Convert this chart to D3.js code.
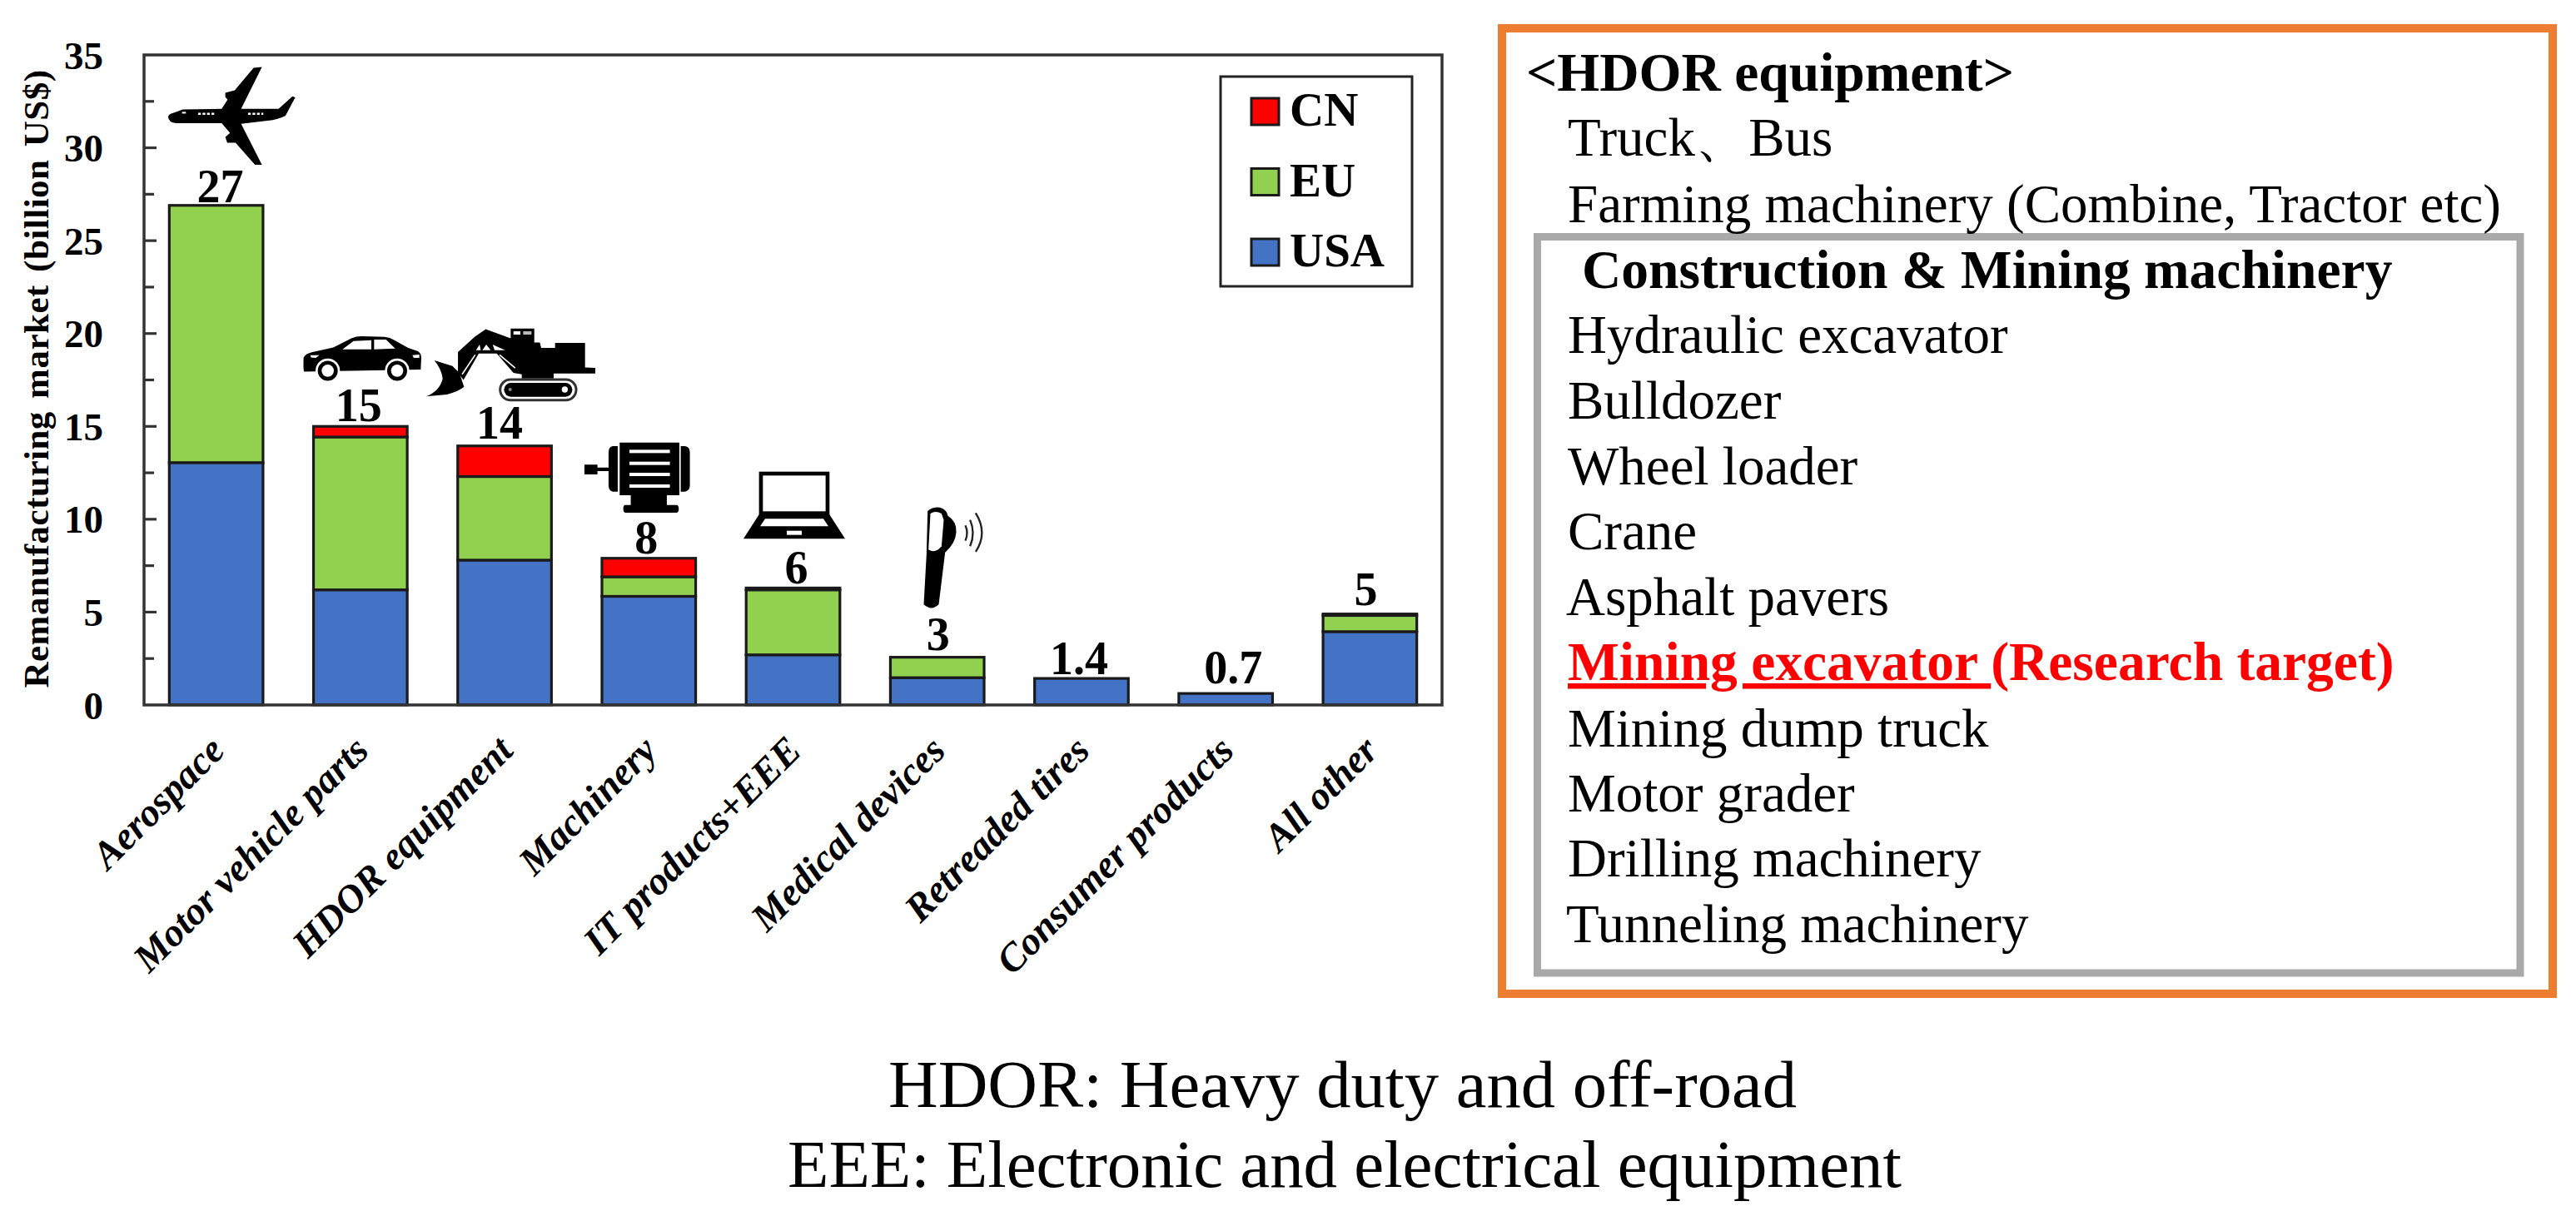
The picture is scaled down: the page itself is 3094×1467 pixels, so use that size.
<!DOCTYPE html>
<html><head><meta charset="utf-8">
<script src="https://cdn.jsdelivr.net/npm/d3@7/dist/d3.min.js"></script>
<style>html,body{margin:0;background:#fff}svg{display:block}text{font-family:"Liberation Serif",serif;fill:#000}</style>
</head><body><svg id="c" width="3094" height="1467"></svg>
<script>
const categories=["Aerospace","Motor vehicle parts","HDOR equipment","Machinery","IT products+EEE","Medical devices","Retreaded tires","Consumer products","All other"];
const usa=[13.05,6.2,7.8,5.85,2.7,1.47,1.43,0.62,3.95];
const eu=[13.85,8.23,4.5,1.05,3.5,1.1,0,0,0.87];
const cn=[0,0.57,1.65,1.0,0.1,0,0,0,0.08];
const totalLabels=["27","15","14","8","6","3","1.4","0.7","5"];
const seriesNames=["USA","EU","CN"];
const seriesColors=["#4472c4","#92d050","#ff0000"];
const legendOrder=["CN","EU","USA"];
const yMajorTicks=[0,5,10,15,20,25,30,35];
const yMinorTicks=[2.5,7.5,12.5,17.5,22.5,27.5,32.5];
const panelLines=[
 {t:"<HDOR equipment>",b:1,x:1833,y:109},
 {t:"Truck、 Bus",x:1883,y:187,ws:-17},
 {t:"Farming machinery (Combine, Tractor etc)",x:1883,y:267},
 {t:"Construction & Mining machinery",b:1,x:1900,y:346},
 {t:"Hydraulic excavator",x:1883,y:424},
 {t:"Bulldozer",x:1883,y:503},
 {t:"Wheel loader",x:1883,y:582},
 {t:"Crane",x:1883,y:660},
 {t:"Asphalt pavers",x:1881,y:739},
 {t:"Mining dump truck",x:1883,y:897},
 {t:"Motor grader",x:1883,y:975},
 {t:"Drilling machinery",x:1883,y:1053},
 {t:"Tunneling machinery",x:1881,y:1132}];
const captionLines=["HDOR: Heavy duty and off-road","EEE: Electronic and electrical equipment"];
const svg=d3.select("#c");
const L=173,R=1732,T=66,B=847;
const x=d3.scaleBand().domain(categories).range([L,R]).paddingInner(0.35).paddingOuter(0.175);
const y=d3.scaleLinear().domain([0,35]).range([B,T]);
const totals=categories.map((c,i)=>usa[i]+eu[i]+cn[i]);
const rows=categories.map((c,i)=>({cat:c,USA:usa[i],EU:eu[i],CN:cn[i]}));
const stack=d3.stack().keys(seriesNames)(rows);
const col=d3.scaleOrdinal(seriesNames,seriesColors);
svg.append("g").selectAll("g").data(stack).join("g").attr("fill",d=>col(d.key))
 .selectAll("rect").data(d=>d.filter(p=>p[1]-p[0]>0)).join("rect")
 .attr("x",d=>x(d.data.cat)).attr("width",x.bandwidth())
 .attr("y",d=>y(d[1])).attr("height",d=>y(d[0])-y(d[1]))
 .attr("stroke","#1a1a1a").attr("stroke-width",3.2);
svg.append("rect").attr("x",L).attr("y",T).attr("width",R-L).attr("height",B-T).attr("fill","none").attr("stroke","#333").attr("stroke-width",3.5);
const yAxis=d3.axisLeft(y).tickValues(yMajorTicks).tickSize(0).tickPadding(0).tickFormat(d3.format("d"));
const ga=svg.append("g").attr("transform",`translate(${L},0)`).call(yAxis);
ga.select(".domain").remove();
ga.selectAll("text").attr("x",-49).attr("dy",null).attr("y",16).attr("font-size",47).attr("font-weight","bold").style("font-family",'"Liberation Serif",serif');
svg.append("g").selectAll("line").data(yMajorTicks.slice(1,-1)).join("line").attr("x1",L).attr("x2",L+15).attr("y1",y).attr("y2",y).attr("stroke","#333").attr("stroke-width",3.2);
svg.append("g").selectAll("line").data(yMinorTicks).join("line").attr("x1",L).attr("x2",L+12).attr("y1",y).attr("y2",y).attr("stroke","#333").attr("stroke-width",3.2);
svg.append("text").attr("transform",`translate(58,455) rotate(-90)`).attr("text-anchor","middle").attr("font-weight","bold").attr("font-size",43).attr("letter-spacing",0.5).attr("word-spacing",4).text("Remanufacturing market (billion US$)");
svg.append("g").selectAll("text").data(categories).join("text")
 .attr("transform",d=>`translate(${x(d)+x.bandwidth()/2+1},893) rotate(-45)`)
 .attr("text-anchor","end").attr("font-weight","bold").attr("font-style","italic").attr("font-size",47).attr("dy",16).text(d=>d);
const labelNudgeX=[5,-2,-6,-3,4,1,-3,9,-5], labelLift=[4,6,9,6,5,9,5,12,11];
svg.append("g").selectAll("text").data(categories).join("text")
 .attr("x",(d,i)=>x(d)+x.bandwidth()/2+labelNudgeX[i])
 .attr("y",(d,i)=>y(totals[i])-labelLift[i])
 .attr("text-anchor","middle").attr("font-weight","bold").attr("font-size",56).text((d,i)=>totalLabels[i]);
const lg=svg.append("g");
lg.append("rect").attr("x",1466).attr("y",92).attr("width",230).attr("height",252).attr("fill","#fff").attr("stroke","#222").attr("stroke-width",3);
const ly=d3.scalePoint().domain(legendOrder).range([134,303]);
legendOrder.forEach(k=>{
 lg.append("rect").attr("x",1503).attr("y",ly(k)-16).attr("width",33).attr("height",32).attr("fill",col(k)).attr("stroke","#1a1a1a").attr("stroke-width",3);
 lg.append("text").attr("x",1549).attr("y",ly(k)+17).attr("font-weight","bold").attr("font-size",57).text(k);
});
// pictograms, drawn in a 3x local space and hung from each bar's top
const icons=svg.append("g");
const ic=(i,dx,dy)=>icons.append("g").attr("transform",`translate(${x(categories[i])+x.bandwidth()/2+dx},${y(totals[i])+dy}) scale(0.3333)`);
const P=(g,d,f="#000")=>g.append("path").attr("d",d).attr("fill",f);
// plane
const pl=ic(0,-65,-177);
P(pl,"M22,212 Q24,202 40,198 L75,185 L215,183 L236,150 L228,140 L228,125 L262,116 L330,35 L360,32 L285,183 L420,183 L470,138 L480,142 L445,208 Q420,222 380,226 L285,237 L360,385 L335,385 L265,305 L235,305 L228,285 L245,270 L215,235 L50,235 Q24,232 22,212Z");
pl.append("path").attr("d","M130,201H190M310,201H365").attr("stroke","#fff").attr("stroke-width",8).attr("stroke-dasharray","10 6").attr("fill","none");
pl.append("rect").attr("x",72).attr("y",194).attr("width",14).attr("height",6).attr("fill","#fff");
// car
const car=ic(1,-77.5,-117.5);
P(car,"M28,105 Q32,92 60,85 L135,68 L200,35 Q220,27 240,28 L320,30 Q340,32 355,42 L405,70 L440,82 Q452,90 452,105 L450,148 L30,155 Q26,150 28,105Z");
P(car,"M168,75 L208,45 L272,42 L272,75Z M282,40 L325,40 L358,72 L282,75Z","#fff");
P(car,"M52,96 L85,96 L72,106 L55,104Z M420,96 L445,94 L445,106 L425,106Z","#fff");
[115,365].forEach(cx=>{
 car.append("circle").attr("cx",cx).attr("cy",152).attr("r",44).attr("fill","#fff");
 car.append("circle").attr("cx",cx).attr("cy",152).attr("r",36).attr("fill","#000");
 car.append("circle").attr("cx",cx).attr("cy",152).attr("r",22).attr("fill","#fff");
});
// excavator
const ex=ic(2,-106,-151);
P(ex,"M65,145 L130,165 L155,190 L172,240 Q155,255 110,268 L35,275 Q85,255 95,210 Q90,175 65,145Z");
P(ex,"M150,115 L210,60 L250,32 L340,65 L340,30 L425,30 L425,80 L445,80 L450,100 L500,100 L500,82 L608,82 L608,170 L645,172 L645,192 L495,192 L495,210 L380,210 L380,195 L350,190 L290,120 L225,120 L170,215 L150,190Z");
P(ex,"M215,108 L228,88 L232,108Z M238,108 L252,88 L268,108Z M275,88 L320,108 L282,108Z","#fff");
ex.append("path").attr("d","M165,195 L212,125 M300,125 L356,172").attr("stroke","#fff").attr("stroke-width",5).attr("fill","none");
P(ex,"M350,40H375V52H350Z","#fff");P(ex,"M385,40H415V52H385Z","#bbb");
ex.append("rect").attr("x",302).attr("y",214).attr("width",274).attr("height",74).attr("rx",37).attr("fill","none").attr("stroke","#333").attr("stroke-width",9);
ex.append("rect").attr("x",316).attr("y",226).attr("width",246).attr("height",50).attr("rx",25).attr("fill","#000");
ex.append("circle").attr("cx",535).attr("cy",250).attr("r",11).attr("fill","#fff");
ex.append("circle").attr("cx",338).attr("cy",250).attr("r",6).attr("fill","#888");
// motor
const mo=ic(3,-90,-160.7);
P(mo,"M165,65H380V255H335V290H370Q378,290 378,304 Q378,318 370,318H185Q178,318 178,304 Q178,290 185,290H205V255H165Z");
P(mo,"M158,78H140Q125,80 125,100V220Q125,240 140,242H158Z");
P(mo,"M385,78H400Q418,80 418,100V220Q418,240 400,242H385Z");
P(mo,"M38,145H85V155H130V168H85V180H38Z");
[97,140,180,222].forEach(yy=>mo.append("rect").attr("x",200).attr("y",yy-6).attr("width",146).attr("height",12).attr("fill","#fff"));
// laptop
const lp=ic(4,-263.5,-196.4);
lp.append("rect").attr("x",675).attr("y",177).attr("width",240).attr("height",143).attr("fill","#fff").attr("stroke","#000").attr("stroke-width",14);
P(lp,"M668,325H922L978,412H612Z");
P(lp,"M690,340H900L918,367H672Z","#fff");
P(lp,"M768,383H822V398H768Z","#fff");
// probe
const pr=ic(5,-435.5,-280);
P(pr,"M1272,313 Q1290,298 1315,300 Q1340,305 1345,330 Q1378,350 1375,390 Q1372,430 1335,462 L1312,650 Q1285,675 1258,650 L1268,468 Z");
P(pr,"M1282,322 Q1300,310 1322,322 L1330,345 L1322,440 Q1300,468 1275,452 Z","#fff");
pr.append("path").attr("d","M1408,365 Q1420,392 1408,420 M1425,345 Q1445,392 1425,440 M1445,320 Q1490,392 1445,460").attr("fill","none").attr("stroke","#222").attr("stroke-width",7);
// panels
svg.append("rect").attr("x",1804).attr("y",34).attr("width",1262).attr("height",1160).attr("fill","none").attr("stroke","#ed7d31").attr("stroke-width",10);
svg.append("rect").attr("x",1846.5).attr("y",284.5).attr("width",1180.5).attr("height",884.5).attr("fill","none").attr("stroke","#a9a9a9").attr("stroke-width",9);
svg.append("g").selectAll("text").data(panelLines).join("text").attr("x",d=>d.x).attr("y",d=>d.y).attr("font-size",d=>d.b?65.5:65).attr("font-weight",d=>d.b?"bold":"normal").attr("word-spacing",d=>d.ws||0).text(d=>d.t);
const t=svg.append("text").attr("x",1883).attr("y",817).attr("font-size",65.5).attr("font-weight","bold").style("fill","#ff0000");
t.append("tspan").attr("text-decoration","underline").text("Mining excavator ");
t.append("tspan").text("(Research target)");
// caption
const capX=[1612.5,1615],capW=[1091,1338];
svg.append("g").selectAll("text").data(captionLines).join("text").attr("x",(d,i)=>capX[i]).attr("y",(d,i)=>1330+i*95.5).attr("text-anchor","middle").attr("font-size",80).attr("textLength",(d,i)=>capW[i]).attr("lengthAdjust","spacingAndGlyphs").text(d=>d);
</script></body></html>
